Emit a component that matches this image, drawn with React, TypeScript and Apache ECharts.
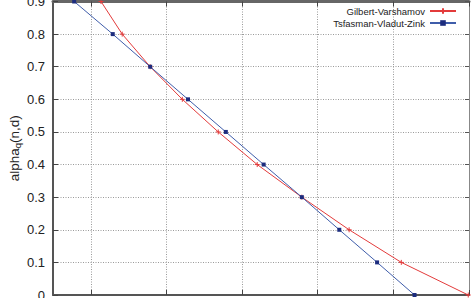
import { useEffect, useRef } from 'react';
import * as echarts from 'echarts';

// y values (rate) shared by both curves
const rateValues = [0.9, 0.8, 0.7, 0.6, 0.5, 0.4, 0.3, 0.2, 0.1, 0];
// x positions (relative delta units, axis 0..1.1)
const gvDelta = [0.127, 0.183, 0.257, 0.342, 0.437, 0.54, 0.658, 0.783, 0.921, 1.098];
const tvzDelta = [0.056, 0.158, 0.257, 0.357, 0.457, 0.557, 0.658, 0.757, 0.857, 0.956];
// positions of the vertical tick/grid slots (every other one is drawn)
const xSlots = ['0', '0.1', '0.2', '0.3', '0.4', '0.5', '0.6', '0.7', '0.8', '0.9', '1.0', '1.1'];
const yTickLabels = ['0', '0.1', '0.2', '0.3', '0.4', '0.5', '0.6', '0.7', '0.8', '0.9'];

const seriesNames = ['Gilbert-Varshamov', 'Tsfasman-Vladut-Zink'];

const FONT = 'Liberation Sans, Arial, Helvetica, sans-serif';

export default function App() {
  const ref = useRef<HTMLDivElement>(null);
  useEffect(() => {
    if (!ref.current) return;
    const chart = echarts.init(ref.current, undefined, { renderer: 'svg' });
    const gvData = gvDelta.map((x, i) => [x, rateValues[i]]);
    const tvzData = tvzDelta.map((x, i) => [x, rateValues[i]]);
    const oddOnly = (index: number) => index % 2 === 1;
    chart.setOption({
      animation: false,
      backgroundColor: '#ffffff',
      grid: { left: 53, top: 1.5, width: 416, height: 293.5, containLabel: false, outerBoundsMode: 'none' },
      legend: {
        data: seriesNames,
        orient: 'vertical',
        right: 17,
        top: 6,
        align: 'right',
        itemWidth: 26,
        itemHeight: 7,
        itemGap: 2,
        padding: 0,
        textStyle: { fontSize: 9.5, color: '#222', fontFamily: FONT, lineHeight: 9 },
      },
      xAxis: [
        {
          type: 'value',
          min: 0,
          max: 1.1,
          position: 'bottom',
          axisLine: { show: true, onZero: false, lineStyle: { color: '#555', width: 2 } },
          axisTick: { show: false },
          axisLabel: { show: false },
          splitLine: { show: false },
        },
        {
          type: 'category',
          data: xSlots,
          boundaryGap: false,
          position: 'bottom',
          axisLine: { show: false },
          axisLabel: { show: false },
          axisTick: { show: true, inside: true, length: 5, interval: oddOnly, lineStyle: { color: '#444', width: 1 } },
          splitLine: { show: true, interval: oddOnly, lineStyle: { color: '#9a9a9a', width: 1, type: [1, 1.5] } },
        },
        {
          type: 'category',
          data: xSlots,
          boundaryGap: false,
          position: 'top',
          axisLine: { show: true, onZero: false, lineStyle: { color: '#666', width: 3 } },
          axisLabel: { show: false },
          axisTick: { show: true, inside: true, length: 5, interval: oddOnly, lineStyle: { color: '#444', width: 1 } },
          splitLine: { show: false },
        },
      ],
      yAxis: [
        {
          type: 'value',
          min: 0,
          max: 0.9,
          interval: 0.1,
          position: 'left',
          name: '{a|alpha}{s|q}{a|(n,d)}',
          nameLocation: 'middle',
          nameRotate: 90,
          nameGap: 31,
          nameMoveOverlap: false,
          nameTextStyle: {
            rich: {
              a: { fontSize: 13.5, color: '#222', fontFamily: FONT },
              s: { fontSize: 9.5, color: '#222', fontFamily: FONT, verticalAlign: 'bottom', padding: [6, 0, 0, 0] },
            },
          },
          axisLine: { show: true, onZero: false, lineStyle: { color: '#555', width: 2 } },
          axisTick: { show: true, inside: true, length: 5, lineStyle: { color: '#444', width: 1 } },
          axisLabel: {
            margin: 8,
            fontSize: 13,
            color: '#222',
            fontFamily: FONT,
            formatter: (v: number) => yTickLabels[Math.round(v * 10)] ?? '',
          },
          splitLine: { show: true, lineStyle: { color: '#9a9a9a', width: 1, type: [1, 1.5] } },
        },
        {
          type: 'value',
          min: 0,
          max: 0.9,
          interval: 0.1,
          position: 'right',
          axisLine: { show: true, onZero: false, lineStyle: { color: '#888', width: 1 } },
          axisTick: { show: true, inside: true, length: 4, lineStyle: { color: '#555', width: 1 } },
          axisLabel: { show: false },
          splitLine: { show: false },
        },
      ],
      series: [
        {
          name: seriesNames[0],
          type: 'line',
          xAxisIndex: 0,
          yAxisIndex: 0,
          data: gvData,
          symbol: 'path://M5,0L5,10M0,5L10,5',
          symbolSize: 5,
          showAllSymbol: true,
          lineStyle: { color: '#e33b3b', width: 1 },
          itemStyle: { color: '#e33b3b', borderColor: '#e33b3b', borderWidth: 1 },
          z: 3,
        },
        {
          name: seriesNames[1],
          type: 'line',
          xAxisIndex: 0,
          yAxisIndex: 0,
          data: tvzData,
          symbol: 'rect',
          symbolSize: 4,
          showAllSymbol: true,
          lineStyle: { color: '#3f5daa', width: 1 },
          itemStyle: { color: '#1c2c7e' },
          z: 4,
        },
      ],
    });
    return () => chart.dispose();
  }, []);
  return (
    <div
      ref={ref}
      style={{ position: 'fixed', left: 0, top: 0, width: 474, height: 298, background: '#fff' }}
    />
  );
}
